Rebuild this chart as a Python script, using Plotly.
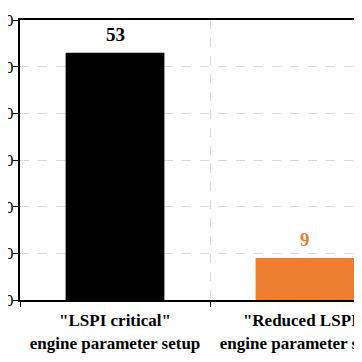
import plotly.graph_objects as go

categories = ['"LSPI critical"<br>engine parameter setup', '"Reduced LSPI"<br>engine parameter setup']
values = [53, 9]
colors = ["#000000", "#ED7D31"]
y_ticks = [0, 10, 20, 30, 40, 50, 60]

FONT = "Liberation Serif"

fig = go.Figure()
fig.add_trace(go.Bar(
    x=categories, y=values, marker=dict(color=colors, line=dict(width=0)),
    width=0.52, showlegend=False,
))

for c, v, col in zip(categories, values, colors):
    fig.add_annotation(
        x=c, y=v, text=f"<b>{v}</b>", showarrow=False, yanchor="bottom", yshift=6,
        font=dict(family=FONT, size=19, color=col),
    )

# page body has an 8px default margin, so offsets are compensated here
fig.update_layout(
    width=362, height=362,
    margin=dict(l=12, r=8, t=12, b=70),
    paper_bgcolor="white", plot_bgcolor="white",
    font=dict(family=FONT, size=17, color="black"),
)
fig.update_xaxes(
    type="category", range=[-0.5, 1.3], tickson="boundaries",
    showgrid=True, gridcolor="#d9d9d9", griddash="dash", gridwidth=1,
    showline=True, linecolor="black", linewidth=2, mirror=True,
    ticks="outside", ticklen=5, tickcolor="black", tickwidth=1,
    tickfont=dict(family=FONT, size=17, color="black"),
    tickprefix="<b>", ticksuffix="</b>", automargin=False,
    ticklabelstandoff=4,
)
fig.update_yaxes(
    range=[0, 60], tickvals=y_ticks,
    showgrid=True, gridcolor="#d9d9d9", griddash="dash", gridwidth=1,
    showline=True, linecolor="black", linewidth=2,
    ticks="outside", ticklen=5, tickcolor="black", tickwidth=1,
    tickfont=dict(family=FONT, size=17, color="black"),
    ticklabelstandoff=-4,
    automargin=False, zeroline=False,
)

fig.write_html("out.html")
